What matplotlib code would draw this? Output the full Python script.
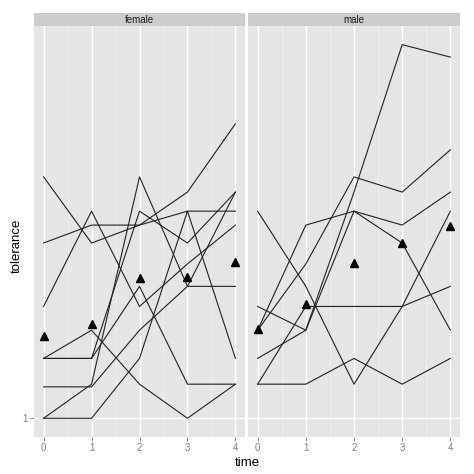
import numpy as np
import matplotlib
matplotlib.use("Agg")
import matplotlib.pyplot as plt

# tolerance per subject, ages 11..15 -> time 0..4
times = [0, 1, 2, 3, 4]
female_tol = [
    [2.23, 1.79, 1.90, 2.12, 2.66],
    [1.22, 1.22, 1.55, 1.12, 1.12],
    [1.45, 1.99, 1.45, 1.67, 1.90],
    [1.79, 1.90, 1.90, 1.99, 1.99],
    [1.22, 1.34, 1.12, 1.00, 1.12],
    [1.00, 1.00, 1.22, 1.99, 1.22],
    [1.22, 1.22, 1.99, 1.79, 2.12],
    [1.00, 1.12, 2.23, 1.55, 1.55],
    [1.11, 1.11, 1.34, 1.55, 2.12],
]
male_tol = [
    [1.12, 1.45, 1.45, 1.45, 1.99],
    [1.45, 1.34, 1.99, 1.79, 1.34],
    [1.34, 1.67, 2.23, 2.12, 2.44],
    [1.12, 1.12, 1.22, 1.12, 1.22],
    [1.99, 1.55, 1.12, 1.45, 1.55],
    [1.22, 1.34, 2.12, 3.46, 3.32],
    [1.34, 1.90, 1.99, 1.90, 2.12],
]
panels = [("female", female_tol), ("male", male_tol)]

W = H = 474
plt.rcParams["font.family"] = ["Liberation Sans", "DejaVu Sans"]
fig = plt.figure(figsize=(W / 100, H / 100), dpi=100)


def px_axes(x0, y0, x1, y1):
    return fig.add_axes([x0 / W, 1 - y1 / H, (x1 - x0) / W, (y1 - y0) / H])


lefts = [(34, 245), (248, 460)]
for i, ((name, tol), (x0, x1)) in enumerate(zip(panels, lefts)):
    ax = px_axes(x0, 26, x1, 437)
    ax.set_facecolor("#E5E5E5")
    tol = np.array(tol)
    for row in tol:
        ax.plot(times, row, color="#222222", lw=0.8, zorder=3)
    gmean = 10 ** np.log10(tol).mean(axis=0)
    ax.plot(times, gmean, "^", color="black", ms=6, zorder=4)
    ax.set_yscale("log")
    ax.set_xlim(-0.2, 4.2)
    ax.set_ylim(10 ** -0.027, 10 ** 0.566)
    ax.minorticks_off()
    ax.set_xticks(times)
    ax.set_xticklabels([str(t) for t in times])
    for m in [-0.5, 0.5, 1.5, 2.5, 3.5]:
        ax.axvline(m, color="#F2F2F2", lw=0.5, zorder=1)
    for t in times:
        ax.axvline(t, color="white", lw=1.0, zorder=1)
    ax.axhline(1, color="white", lw=1.0, zorder=1)
    ax.set_yticks([1])
    ax.set_yticklabels(["1"])
    ax.tick_params(colors="#7F7F7F", labelsize=7, length=3, width=0.6, pad=1.5)
    if i == 1:
        ax.tick_params(axis="y", length=0, labelleft=False)
    for s in ax.spines.values():
        s.set_visible(False)

    sax = px_axes(x0, 13, x1, 26)
    sax.set_facecolor("#CCCCCC")
    sax.set_xticks([])
    sax.set_yticks([])
    for s in sax.spines.values():
        s.set_visible(False)
    sax.text(0.5, 0.45, name, ha="center", va="center", fontsize=7,
             color="#1A1A1A", transform=sax.transAxes)

fig.text(247 / W, 1 - 463 / H, "time", ha="center", va="center", fontsize=9.5)
fig.text(17 / W, 1 - 246 / H, "tolerance", ha="center", va="center",
         rotation=90, fontsize=9.5)

fig.savefig("out.png", dpi=100)
